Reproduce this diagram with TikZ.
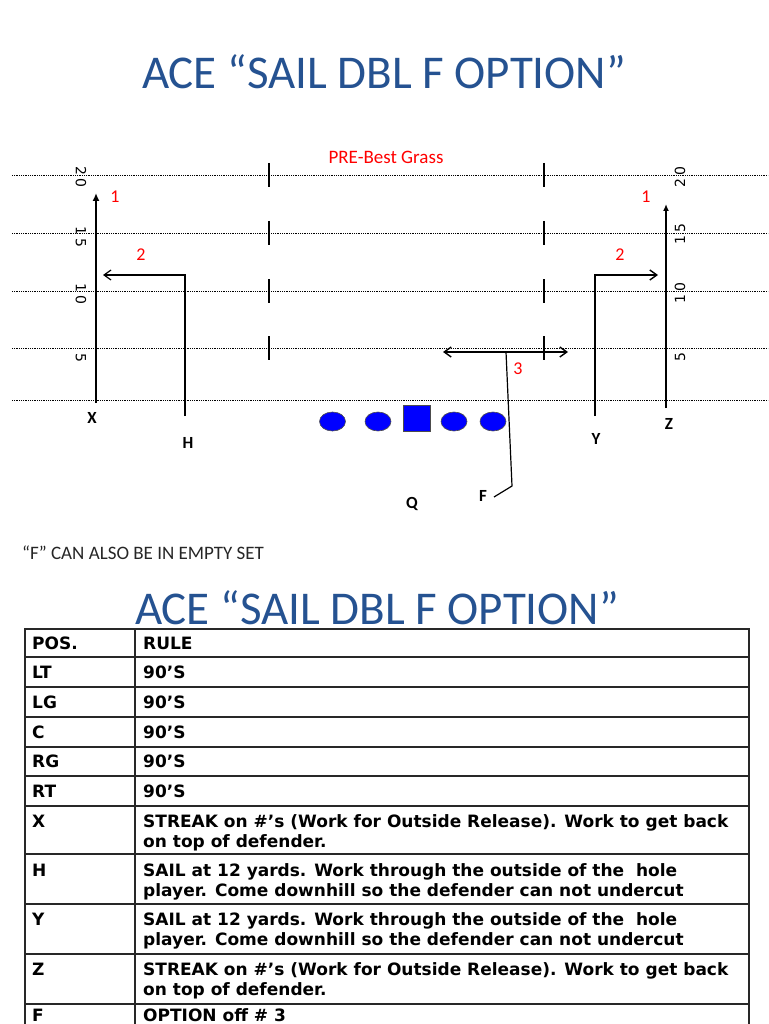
\documentclass[tikz,border=0pt]{standalone}
\usepackage{fontspec}
\setmainfont{Carlito}
\newfontfamily\tabfont{DejaVu Sans}
\usetikzlibrary{arrows.meta,shapes.geometric}
\definecolor{titleblue}{RGB}{37,82,145}
\definecolor{manblue}{RGB}{0,0,255}
\definecolor{pred}{RGB}{255,0,0}
\definecolor{gridgray}{RGB}{40,40,40}
\tikzset{
  titletext/.style={text=titleblue,font=\fontsize{47}{54}\selectfont,inner sep=0},
  yardline/.style={line width=0.8pt,dash pattern=on 1pt off 0.8pt},
  hashmark/.style={line width=1.6pt},
  yardnum/.style={font=\tabfont\fontsize{14}{16}\selectfont,inner sep=0},
  plabel/.style={font=\bfseries\fontsize{17}{20}\selectfont,inner sep=0},
  rnum/.style={text=pred,font=\fontsize{18}{20}\selectfont,inner sep=0},
  route/.style={line width=1.2pt},
  barb/.style={-{Straight Barb[length=7pt,width=10pt,line width=1.2pt]}},
  lineman/.style={ellipse,draw=black!70,fill=manblue,line width=0.6pt,minimum width=26pt,minimum height=19pt,inner sep=0},
  centerman/.style={rectangle,draw=black!70,fill=manblue,line width=0.6pt,minimum width=27pt,minimum height=26pt,inner sep=0},
  tabtext/.style={font=\tabfont\bfseries\fontsize{17}{20}\selectfont,inner sep=0,anchor=base west,align=left},
  tabline/.style={draw=gridgray,line width=1.4pt},
}
\begin{document}
\begin{tikzpicture}[x=1pt,y=-1pt]
\useasboundingbox (0,0) rectangle (768,1024);
\clip (0,0) rectangle (768,1024);
\fill[white] (0,0) rectangle (768,1024);

% Title 1
\node[titletext] (title1) at (384,72) {ACE “SAIL DBL F OPTION”};
\node[text=pred,font=\fontsize{19}{21}\selectfont,inner sep=0] (pre) at (386,157) {PRE-Best Grass};

% field lines
\foreach \yy in {175,233,291,348,400}
  \draw[yardline] (12,\yy) -- (768,\yy);
\foreach \yy in {175,233,291,348} {
  \draw[hashmark] (269,\yy-12) -- (269,\yy+12);
  \draw[hashmark] (544,\yy-12) -- (544,\yy+12);
}

% yard numbers
\node[yardnum,rotate=-90] (l20) at (81,177) {2\,0};
\node[yardnum,rotate=-90] (l15) at (81,237) {1\,5};
\node[yardnum,rotate=-90] (l10) at (81,294) {1\,0};
\node[yardnum,rotate=-90] (l5) at (81,358) {5};
\node[yardnum,rotate=90] (r20) at (680,177) {2\,0};
\node[yardnum,rotate=90] (r15) at (680,234) {1\,5};
\node[yardnum,rotate=90] (r10) at (680,293) {1\,0};
\node[yardnum,rotate=90] (r5) at (680,357) {5};

% player labels
\node[plabel] (X) at (92,418) {X};
\node[plabel] (H) at (188,443) {H};
\node[plabel] (Y) at (596,439) {Y};
\node[plabel] (Z) at (669,424) {Z};
\node[plabel] (Q) at (412,504) {Q};
\node[plabel] (F) at (483,496) {F};

% line
\node[lineman] (lt) at (332.5,421.5) {};
\node[lineman] (lg) at (378,421.5) {};
\node[centerman] (c) at (416.5,418.5) {};
\node[lineman] (rg) at (454,421.5) {};
\node[lineman] (rt) at (493,421.5) {};

% route coordinates
\coordinate (xs) at (96,403);
\coordinate (xe) at (96,193);
\coordinate (hs) at (185,416);
\coordinate (hb) at (185,275);
\coordinate (he) at (103,275);
\coordinate (ys) at (595,416);
\coordinate (yb) at (595,275);
\coordinate (ye) at (658,275);
\coordinate (zs) at (666,408);
\coordinate (ze) at (666,204);
\coordinate (fs) at (494,497);
\coordinate (fb) at (512,486);
\coordinate (ft) at (506,352);
\coordinate (fl) at (443,352);
\coordinate (fr) at (568,352);

% routes
\draw[line width=2.6pt,-{Latex[length=8pt,width=7pt]}] (xs) -- (xe);
\draw[route,line width=1.4pt,-{Latex[length=7pt,width=6pt]}] (zs) -- (ze);
\draw[route,barb] (hs) -- (hb) -- (he);
\draw[route,line width=2pt,-{Straight Barb[length=7pt,width=10pt,line width=1.4pt]}] (ys) -- (yb) -- (ye);
\draw[route] (fs) -- (fb) -- (ft);
\draw[line width=2pt,{Straight Barb[length=7pt,width=10pt,line width=1.4pt]}-{Straight Barb[length=7pt,width=10pt,line width=1.4pt]}] (fl) -- (fr);

% route numbers
\node[rnum] (x1) at (115,197) {1};
\node[rnum] (z1) at (646,197) {1};
\node[rnum] (h2) at (141,255) {2};
\node[rnum] (y2) at (620,255) {2};
\node[rnum] (f3) at (518,369) {3};

% note
\node[anchor=west,font=\fontsize{19}{21}\selectfont,inner sep=0,text=black!85] (note) at (22,553) {“F” CAN ALSO BE IN EMPTY SET};

% Title 2
\node[titletext] (title2) at (377,608) {ACE “SAIL DBL F OPTION”};

% table
\draw[tabline] (25,629) rectangle (749,1040);
\draw[tabline] (135,629) -- (135,1040);
\foreach \yy in {657,687,717,747,776,806,854,904,954,1004}
  \draw[tabline] (25,\yy) -- (749,\yy);

\node[tabtext] (p0) at (32,649) {POS.};
\node[tabtext] (r0) at (143,649) {RULE};
\node[tabtext] (p1) at (32,678) {LT};
\node[tabtext] (r1) at (143,678) {90’S};
\node[tabtext] (p2) at (32,708) {LG};
\node[tabtext] (r2) at (143,708) {90’S};
\node[tabtext] (p3) at (32,738) {C};
\node[tabtext] (r3) at (143,738) {90’S};
\node[tabtext] (p4) at (32,767) {RG};
\node[tabtext] (r4) at (143,767) {90’S};
\node[tabtext] (p5) at (32,797) {RT};
\node[tabtext] (r5) at (143,797) {90’S};
\node[tabtext] (p6) at (32,827) {X};
\node[tabtext] (r6) at (143,847) {STREAK on \#’s (Work for Outside Release). Work to get back\\on top of defender.};
\node[tabtext] (p7) at (32,876) {H};
\node[tabtext] (r7) at (143,896) {SAIL at 12 yards. Work through the outside of the\ \ hole\\player. Come downhill so the defender can not undercut};
\node[tabtext] (p8) at (32,925) {Y};
\node[tabtext] (r8) at (143,945) {SAIL at 12 yards. Work through the outside of the\ \ hole\\player. Come downhill so the defender can not undercut};
\node[tabtext] (p9) at (32,975) {Z};
\node[tabtext] (r9) at (143,995) {STREAK on \#’s (Work for Outside Release). Work to get back\\on top of defender.};
\node[tabtext] (p10) at (32,1021) {F};
\node[tabtext] (r10) at (143,1021) {OPTION off \# 3};
\end{tikzpicture}
\end{document}
